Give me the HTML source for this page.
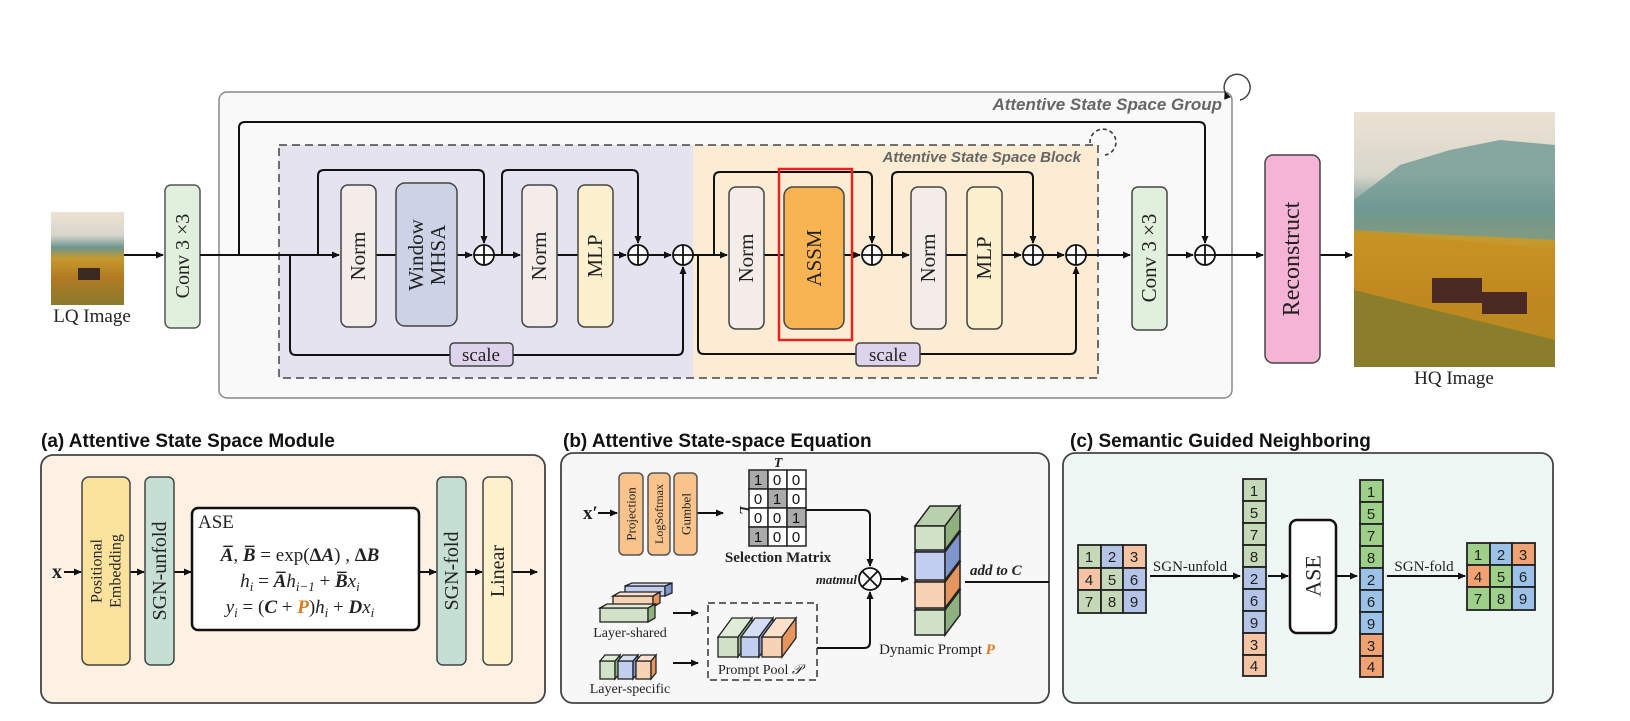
<!DOCTYPE html>
<html><head><meta charset="utf-8"><style>
html,body{margin:0;padding:0;background:#fff}
svg{display:block}
.s{font-family:"Liberation Serif",serif;fill:#222}
.t{font-family:"Liberation Sans",sans-serif;font-weight:bold;fill:#111}
.it{font-family:"Liberation Sans",sans-serif;font-weight:bold;font-style:italic;fill:#666}
</style></head><body>
<svg width="1630" height="721" viewBox="0 0 1630 721" xmlns="http://www.w3.org/2000/svg">
<defs>
<marker id="a" markerWidth="8" markerHeight="8" refX="7" refY="4" orient="auto" markerUnits="userSpaceOnUse"><path d="M0,0.5 L8,4 L0,7.5 z" fill="#111"/></marker>
<linearGradient id="sky" x1="0" y1="0" x2="0" y2="1">
<stop offset="0" stop-color="#ece2d2"/><stop offset="0.25" stop-color="#d8d6cc"/><stop offset="0.38" stop-color="#6e9690"/><stop offset="0.5" stop-color="#c79a2e"/><stop offset="0.7" stop-color="#b37a22"/><stop offset="1" stop-color="#8a7a2e"/></linearGradient>
</defs>

<!-- LQ image -->
<rect x="51" y="212" width="73" height="93" fill="url(#sky)"/>
<rect x="78" y="268" width="22" height="12" fill="#3a2a22"/>
<text class="s" x="92" y="322" font-size="19" text-anchor="middle">LQ Image</text>
<line x1="124" y1="255" x2="163" y2="255" stroke="#111" stroke-width="2" marker-end="url(#a)"/>

<!-- Conv -->
<rect x="165" y="185" width="35" height="143" rx="6" fill="#e0f0dc" stroke="#555" stroke-width="1.5"/>
<text class="s" font-size="20" text-anchor="middle" dominant-baseline="central" transform="translate(183,256) rotate(-90)">Conv 3 ×3</text>

<!-- Group -->
<rect x="219" y="92" width="1013" height="306" rx="8" fill="#f9f9f9" stroke="#888" stroke-width="1.5"/>
<text class="it" x="1222" y="110" font-size="17" text-anchor="end">Attentive State Space Group</text>
<path d="M1225,92 A13,13 0 1 1 1240,100" fill="none" stroke="#444" stroke-width="1.5" marker-start="url(#a)"/>

<!-- Block -->
<rect x="279" y="145" width="414" height="233" fill="#e6e3f0"/>
<rect x="693" y="145" width="405" height="233" fill="#fbecd3"/>
<rect x="279" y="145" width="819" height="233" fill="none" stroke="#444" stroke-width="1.5" stroke-dasharray="8,5"/>
<text class="it" x="1081" y="162" font-size="15" text-anchor="end">Attentive State Space Block</text>
<path d="M1090,143 A13,13 0 1 1 1105,155" fill="none" stroke="#333" stroke-width="1.5" stroke-dasharray="4,3"/>

<!-- main line -->
<g stroke="#111" stroke-width="2" fill="none">
<line x1="200" y1="255" x2="339" y2="255" marker-end="url(#a)"/>
<path d="M239,255 V128 Q239,122 245,122 H1199 Q1205,122 1205,128 V243" marker-end="url(#a)"/>
<path d="M318,255 V176 Q318,170 324,170 H478 Q484,170 484,176 V243" marker-end="url(#a)"/>
<line x1="376" y1="255" x2="396" y2="255"/>
<line x1="457" y1="255" x2="472" y2="255" marker-end="url(#a)"/>
<line x1="494" y1="255" x2="520" y2="255" marker-end="url(#a)"/>
<path d="M502,255 V176 Q502,170 508,170 H632 Q638,170 638,176 V243" marker-end="url(#a)"/>
<line x1="557" y1="255" x2="578" y2="255"/>
<line x1="613" y1="255" x2="626" y2="255" marker-end="url(#a)"/>
<line x1="648" y1="255" x2="671" y2="255" marker-end="url(#a)"/>
<path d="M290,255 V349 Q290,355 296,355 H677 Q683,355 683,349 V267" marker-end="url(#a)"/>
<line x1="693" y1="255" x2="727" y2="255" marker-end="url(#a)"/>
<path d="M714,255 V178 Q714,172 720,172 H866 Q872,172 872,178 V243" marker-end="url(#a)"/>
<line x1="764" y1="255" x2="784" y2="255"/>
<line x1="844" y1="255" x2="860" y2="255" marker-end="url(#a)"/>
<line x1="882" y1="255" x2="909" y2="255" marker-end="url(#a)"/>
<path d="M892,255 V178 Q892,172 898,172 H1027 Q1033,172 1033,178 V243" marker-end="url(#a)"/>
<line x1="946" y1="255" x2="967" y2="255"/>
<line x1="1002" y1="255" x2="1021" y2="255" marker-end="url(#a)"/>
<line x1="1043" y1="255" x2="1064" y2="255" marker-end="url(#a)"/>
<path d="M698,255 V348 Q698,354 704,354 H1070 Q1076,354 1076,348 V267" marker-end="url(#a)"/>
<line x1="1086" y1="255" x2="1130" y2="255" marker-end="url(#a)"/>
<line x1="1167" y1="255" x2="1193" y2="255" marker-end="url(#a)"/>
<line x1="1215" y1="255" x2="1263" y2="255" marker-end="url(#a)"/>
<line x1="1320" y1="255" x2="1352" y2="255" marker-end="url(#a)"/>
</g>

<!-- plus circles -->
<g stroke="#111" stroke-width="1.8" fill="#fff">
<g transform="translate(484,255)"><circle r="10"/><path d="M-10,0H10M0,-10V10"/></g>
<g transform="translate(638,255)"><circle r="10"/><path d="M-10,0H10M0,-10V10"/></g>
<g transform="translate(683,255)"><circle r="10"/><path d="M-10,0H10M0,-10V10"/></g>
<g transform="translate(872,255)"><circle r="10"/><path d="M-10,0H10M0,-10V10"/></g>
<g transform="translate(1033,255)"><circle r="10"/><path d="M-10,0H10M0,-10V10"/></g>
<g transform="translate(1076,255)"><circle r="10"/><path d="M-10,0H10M0,-10V10"/></g>
<g transform="translate(1205,255)"><circle r="10"/><path d="M-10,0H10M0,-10V10"/></g>
</g>

<!-- boxes -->
<g stroke="#444" stroke-width="1.5">
<rect x="341" y="185" width="35" height="142" rx="7" fill="#f3ece9"/>
<rect x="396" y="183" width="61" height="143" rx="9" fill="#ccd3e7"/>
<rect x="522" y="185" width="35" height="142" rx="7" fill="#f3ece9"/>
<rect x="578" y="185" width="35" height="142" rx="7" fill="#fdf0cf"/>
<rect x="729" y="187" width="35" height="142" rx="7" fill="#f3ece9"/>
<rect x="784" y="187" width="60" height="142" rx="9" fill="#f8b453"/>
<rect x="911" y="187" width="35" height="142" rx="7" fill="#f3ece9"/>
<rect x="967" y="187" width="35" height="142" rx="7" fill="#fdf0cf"/>
<rect x="1132" y="187" width="35" height="143" rx="6" fill="#e0f0dc"/>
<rect x="1265" y="155" width="55" height="208" rx="8" fill="#f5b4d6"/>
<rect x="450" y="343" width="63" height="23" rx="4" fill="#ddd3ea"/>
<rect x="856" y="343" width="64" height="23" rx="4" fill="#ddd3ea"/>
</g>
<rect x="779" y="169" width="73" height="171" fill="none" stroke="#e8231e" stroke-width="2.5"/>
<g class="s" font-size="21" text-anchor="middle" dominant-baseline="central">
<text transform="translate(358,256) rotate(-90)">Norm</text>
<text transform="translate(416,255) rotate(-90)">Window</text>
<text transform="translate(438,255) rotate(-90)">MHSA</text>
<text transform="translate(539,256) rotate(-90)">Norm</text>
<text transform="translate(595,256) rotate(-90)">MLP</text>
<text transform="translate(746,258) rotate(-90)">Norm</text>
<text transform="translate(814,258) rotate(-90)">ASSM</text>
<text transform="translate(928,258) rotate(-90)">Norm</text>
<text transform="translate(984,258) rotate(-90)">MLP</text>
<text transform="translate(1149,258) rotate(-90)">Conv 3 ×3</text>
<text transform="translate(1292,259) rotate(-90)" font-size="24">Reconstruct</text>
</g>
<text class="s" x="481" y="361" font-size="19" text-anchor="middle">scale</text>
<text class="s" x="888" y="361" font-size="19" text-anchor="middle">scale</text>

<!-- HQ image -->
<rect x="1354" y="112" width="201" height="255" fill="url(#sky)"/>
<polygon points="1354,200 1400,165 1450,150 1500,140 1555,145 1555,240 1354,230" fill="#6f9a93" opacity="0.8"/>
<polygon points="1354,230 1555,250 1555,367 1354,367" fill="#c8901f" opacity="0.7"/>
<polygon points="1354,290 1555,340 1555,367 1354,367" fill="#8a7d2c"/>
<rect x="1432" y="278" width="50" height="25" fill="#4a2a22"/>
<rect x="1482" y="292" width="45" height="22" fill="#4a2a22"/>
<text class="s" x="1454" y="384" font-size="19" text-anchor="middle">HQ Image</text>

<!-- Titles -->
<text class="t" x="41" y="447" font-size="19">(a) Attentive State Space Module</text>
<text class="t" x="563" y="447" font-size="19">(b) Attentive State-space Equation</text>
<text class="t" x="1070" y="447" font-size="19">(c) Semantic Guided Neighboring</text>

<!-- Panel a -->
<rect x="41" y="455" width="504" height="248" rx="12" fill="#fdf1e3" stroke="#444" stroke-width="1.8"/>
<text class="s" x="52" y="578" font-size="20" font-weight="bold">x</text>
<g stroke="#111" stroke-width="2" marker-end="url(#a)">
<line x1="64" y1="572" x2="81" y2="572"/>
<line x1="130" y1="572" x2="144" y2="572"/>
<line x1="174" y1="572" x2="191" y2="572"/>
<line x1="419" y1="572" x2="436" y2="572"/>
<line x1="466" y1="572" x2="482" y2="572"/>
<line x1="512" y1="572" x2="537" y2="572"/>
</g>
<g stroke="#444" stroke-width="1.5">
<rect x="82" y="477" width="48" height="188" rx="7" fill="#fbe29d"/>
<rect x="145" y="477" width="29" height="188" rx="6" fill="#c6dfd4"/>
<rect x="437" y="477" width="29" height="188" rx="6" fill="#c6dfd4"/>
<rect x="483" y="477" width="29" height="188" rx="6" fill="#fff1cc"/>
</g>
<rect x="192" y="508" width="227" height="122" rx="6" fill="#fff" stroke="#111" stroke-width="2.5"/>
<g class="s" text-anchor="middle" dominant-baseline="central">
<text transform="translate(97,571) rotate(-90)" font-size="16">Positional</text>
<text transform="translate(116,571) rotate(-90)" font-size="16">Embedding</text>
<text transform="translate(160,571) rotate(-90)" font-size="20">SGN-unfold</text>
<text transform="translate(452,571) rotate(-90)" font-size="20">SGN-fold</text>
<text transform="translate(498,571) rotate(-90)" font-size="20">Linear</text>
</g>
<text class="s" x="198" y="528" font-size="19" fill="#222">ASE</text>
<g class="s" font-size="19" text-anchor="middle">
<text x="300" y="561"><tspan font-weight="bold" font-style="italic">A̅</tspan>, <tspan font-weight="bold" font-style="italic">B̅</tspan> = exp(<tspan font-weight="bold">Δ<tspan font-style="italic">A</tspan></tspan>) , <tspan font-weight="bold">Δ<tspan font-style="italic">B</tspan></tspan></text>
<text x="300" y="587"><tspan font-style="italic">h<tspan font-size="13" dy="4">i</tspan></tspan><tspan dy="-4"> = </tspan><tspan font-weight="bold" font-style="italic">A̅</tspan><tspan font-style="italic">h<tspan font-size="13" dy="4">i−1</tspan></tspan><tspan dy="-4"> + </tspan><tspan font-weight="bold" font-style="italic">B̅</tspan><tspan font-style="italic">x<tspan font-size="13" dy="4">i</tspan></tspan></text>
<text x="300" y="613"><tspan font-style="italic">y<tspan font-size="13" dy="4">i</tspan></tspan><tspan dy="-4"> = (</tspan><tspan font-weight="bold" font-style="italic">C</tspan> + <tspan font-weight="bold" font-style="italic" fill="#e07a20">P</tspan>)<tspan font-style="italic">h<tspan font-size="13" dy="4">i</tspan></tspan><tspan dy="-4"> + </tspan><tspan font-weight="bold" font-style="italic">D</tspan><tspan font-style="italic">x<tspan font-size="13" dy="4">i</tspan></tspan></text>
</g>

<!-- Panel b -->
<rect x="561" y="453" width="488" height="250" rx="12" fill="#f7f7f7" stroke="#444" stroke-width="1.8"/>
<text class="s" x="583" y="519" font-size="19" font-weight="bold">x′</text>
<g stroke="#111" stroke-width="2" fill="none">
<line x1="598" y1="513" x2="617" y2="513" marker-end="url(#a)"/>
<line x1="697" y1="513" x2="723" y2="513" marker-end="url(#a)"/>
<path d="M806,510 H864 Q870,510 870,516 V566" marker-end="url(#a)"/>
<path d="M817,648 H864 Q870,648 870,642 V592" marker-end="url(#a)"/>
<line x1="881" y1="579" x2="908" y2="579" marker-end="url(#a)"/>
<line x1="673" y1="613" x2="698" y2="613" marker-end="url(#a)"/>
<line x1="673" y1="663" x2="698" y2="663" marker-end="url(#a)"/>
<line x1="965" y1="582" x2="1049" y2="582"/>
</g>
<g transform="translate(870,579)" stroke="#111" stroke-width="1.8" fill="#fff"><circle r="11"/><path d="M-7.7,-7.7L7.7,7.7M-7.7,7.7L7.7,-7.7"/></g>
<text class="s" x="857" y="584" font-size="13" font-style="italic" font-weight="bold" text-anchor="end" fill="#333">matmul</text>
<text class="s" x="970" y="575" font-size="15" font-style="italic" font-weight="bold" fill="#222">add to <tspan fill="#222">C</tspan></text>
<g stroke="#555" stroke-width="1.5">
<rect x="619" y="473" width="24" height="82" rx="5" fill="#f8c48c"/>
<rect x="648" y="473" width="22" height="82" rx="5" fill="#f8c48c"/>
<rect x="674" y="473" width="23" height="82" rx="5" fill="#f8c48c"/>
</g>
<g class="s" font-size="13" text-anchor="middle" dominant-baseline="central">
<text transform="translate(631,514) rotate(-90)">Projection</text>
<text transform="translate(659,514) rotate(-90)" font-size="12">LogSoftmax</text>
<text transform="translate(686,514) rotate(-90)">Gumbel</text>
</g>
<!-- selection matrix -->
<g stroke="#222" stroke-width="1.5">
<rect x="749" y="470" width="19" height="19" fill="#aaa"/><rect x="768" y="470" width="19" height="19" fill="#fff"/><rect x="787" y="470" width="19" height="19" fill="#fff"/>
<rect x="749" y="489" width="19" height="19" fill="#fff"/><rect x="768" y="489" width="19" height="19" fill="#aaa"/><rect x="787" y="489" width="19" height="19" fill="#fff"/>
<rect x="749" y="508" width="19" height="19" fill="#fff"/><rect x="768" y="508" width="19" height="19" fill="#fff"/><rect x="787" y="508" width="19" height="19" fill="#aaa"/>
<rect x="749" y="527" width="19" height="19" fill="#aaa"/><rect x="768" y="527" width="19" height="19" fill="#fff"/><rect x="787" y="527" width="19" height="19" fill="#fff"/>
</g>
<g font-family="Liberation Sans,sans-serif" font-size="15" text-anchor="middle" fill="#111">
<text x="758" y="485">1</text><text x="777" y="485">0</text><text x="796" y="485">0</text>
<text x="758" y="504">0</text><text x="777" y="504">1</text><text x="796" y="504">0</text>
<text x="758" y="523">0</text><text x="777" y="523">0</text><text x="796" y="523">1</text>
<text x="758" y="542">1</text><text x="777" y="542">0</text><text x="796" y="542">0</text>
</g>
<text class="s" x="778" y="467" font-size="14" font-style="italic" font-weight="bold" text-anchor="middle">T</text>
<text class="s" font-size="14" font-style="italic" font-weight="bold" text-anchor="middle" transform="translate(740,510) rotate(90)">L</text>
<text class="s" x="778" y="562" font-size="15" font-weight="bold" text-anchor="middle">Selection Matrix</text>
<!-- dynamic prompt stack -->
<g stroke="#222" stroke-width="1.5">
<polygon points="915,610 945,610 960,590 930,590" fill="#a7c49a"/><rect x="915" y="610" width="30" height="25" fill="#d2e2c8"/><polygon points="945,610 960,590 960,615 945,635" fill="#8fb07f"/>
<polygon points="915,582 945,582 960,562 930,562" fill="#f0b488"/><rect x="915" y="582" width="30" height="26" fill="#f8d2b4"/><polygon points="945,582 960,562 960,588 945,608" fill="#e6955e"/>
<polygon points="915,552 945,552 960,532 930,532" fill="#9db0dc"/><rect x="915" y="552" width="30" height="28" fill="#c2cff0"/><polygon points="945,552 960,532 960,560 945,580" fill="#7f96cc"/>
<polygon points="915,526 945,526 960,506 930,506" fill="#b9d0ad"/><rect x="915" y="526" width="30" height="24" fill="#d2e2c8"/><polygon points="945,526 960,506 960,530 945,550" fill="#8fb07f"/>
</g>
<text class="s" x="937" y="654" font-size="15" text-anchor="middle" fill="#2a3a70">Dynamic Prompt <tspan fill="#e07a20" font-weight="bold" font-style="italic">P</tspan></text>
<!-- layer-shared -->
<g stroke="#222" stroke-width="1.3">
<rect x="625" y="586" width="40" height="10" fill="#c2cff0"/><polygon points="665,586 672,583 672,593 665,596" fill="#7f96cc"/><polygon points="625,586 632,583 672,583 665,586" fill="#d6def5"/>
<rect x="613" y="596" width="40" height="11" fill="#f8d2b4"/><polygon points="653,596 660,592 660,603 653,607" fill="#e6955e"/><polygon points="613,596 620,592 660,592 653,596" fill="#fbe0cc"/>
<rect x="600" y="608" width="48" height="14" fill="#d2e2c8"/><polygon points="648,608 655,604 655,618 648,622" fill="#8fb07f"/><polygon points="600,608 607,604 655,604 648,608" fill="#e0ecd8"/>
</g>
<text class="s" x="630" y="637" font-size="14" text-anchor="middle" fill="#2a3a70">Layer-shared</text>
<g stroke="#222" stroke-width="1.3">
<rect x="600" y="661" width="15" height="18" fill="#d2e2c8"/><polygon points="615,661 620,655 620,673 615,679" fill="#8fb07f"/><polygon points="600,661 605,655 620,655 615,661" fill="#e0ecd8"/>
<rect x="618" y="661" width="15" height="18" fill="#c2cff0"/><polygon points="633,661 638,655 638,673 633,679" fill="#7f96cc"/><polygon points="618,661 623,655 638,655 633,661" fill="#d6def5"/>
<rect x="636" y="661" width="15" height="18" fill="#f8d2b4"/><polygon points="651,661 656,655 656,673 651,679" fill="#e6955e"/><polygon points="636,661 641,655 656,655 651,661" fill="#fbe0cc"/>
</g>
<text class="s" x="630" y="693" font-size="14" text-anchor="middle" fill="#2a3a70">Layer-specific</text>
<!-- prompt pool -->
<rect x="708" y="603" width="109" height="77" fill="none" stroke="#333" stroke-width="1.5" stroke-dasharray="7,4"/>
<g stroke="#222" stroke-width="1.3">
<rect x="718" y="637" width="20" height="20" fill="#d2e2c8"/><polygon points="738,637 752,618 752,638 738,657" fill="#8fb07f"/><polygon points="718,637 732,618 752,618 738,637" fill="#e0ecd8"/>
<rect x="741" y="637" width="18" height="20" fill="#c2cff0"/><polygon points="759,637 773,618 773,638 759,657" fill="#7f96cc"/><polygon points="741,637 755,618 773,618 759,637" fill="#d6def5"/>
<rect x="762" y="637" width="20" height="20" fill="#f8d2b4"/><polygon points="782,637 796,618 796,638 782,657" fill="#e6955e"/><polygon points="762,637 776,618 796,618 782,637" fill="#fbe0cc"/>
</g>
<text class="s" x="760" y="674" font-size="14" text-anchor="middle" fill="#2a3a70">Prompt Pool <tspan font-style="italic">𝒫</tspan></text>

<!-- Panel c -->
<rect x="1063" y="453" width="490" height="250" rx="12" fill="#eef7f3" stroke="#444" stroke-width="1.8"/>
<g stroke="#222" stroke-width="1.8">
<rect x="1078" y="545" width="23" height="23" fill="#c5d9b8"/><rect x="1101" y="545" width="22" height="23" fill="#b4c4e6"/><rect x="1123" y="545" width="23" height="23" fill="#f5c4a4"/>
<rect x="1078" y="568" width="23" height="22" fill="#f5c4a4"/><rect x="1101" y="568" width="22" height="22" fill="#c5d9b8"/><rect x="1123" y="568" width="23" height="22" fill="#b4c4e6"/>
<rect x="1078" y="590" width="23" height="23" fill="#c5d9b8"/><rect x="1101" y="590" width="22" height="23" fill="#c5d9b8"/><rect x="1123" y="590" width="23" height="23" fill="#b4c4e6"/>
</g>
<g font-family="Liberation Sans,sans-serif" font-size="15" text-anchor="middle" fill="#222">
<text x="1089" y="562">1</text><text x="1112" y="562">2</text><text x="1134" y="562">3</text>
<text x="1089" y="585">4</text><text x="1112" y="585">5</text><text x="1134" y="585">6</text>
<text x="1089" y="607">7</text><text x="1112" y="607">8</text><text x="1134" y="607">9</text>
</g>
<g stroke="#222" stroke-width="1.8">
<rect x="1467" y="543" width="23" height="22" fill="#9fd08a"/><rect x="1490" y="543" width="22" height="22" fill="#9cc2e8"/><rect x="1512" y="543" width="23" height="22" fill="#f0a272"/>
<rect x="1467" y="565" width="23" height="22" fill="#f0a272"/><rect x="1490" y="565" width="22" height="22" fill="#9fd08a"/><rect x="1512" y="565" width="23" height="22" fill="#9cc2e8"/>
<rect x="1467" y="587" width="23" height="23" fill="#9fd08a"/><rect x="1490" y="587" width="22" height="23" fill="#9fd08a"/><rect x="1512" y="587" width="23" height="23" fill="#9cc2e8"/>
</g>
<g font-family="Liberation Sans,sans-serif" font-size="15" text-anchor="middle" fill="#222">
<text x="1478" y="560">1</text><text x="1501" y="560">2</text><text x="1523" y="560">3</text>
<text x="1478" y="582">4</text><text x="1501" y="582">5</text><text x="1523" y="582">6</text>
<text x="1478" y="604">7</text><text x="1501" y="604">8</text><text x="1523" y="604">9</text>
</g>
<!-- columns -->
<g stroke="#222" stroke-width="1.8">
<rect x="1243" y="479" width="23" height="22" fill="#c5d9b8"/><rect x="1243" y="501" width="23" height="22" fill="#c5d9b8"/><rect x="1243" y="523" width="23" height="22" fill="#c5d9b8"/><rect x="1243" y="545" width="23" height="22" fill="#c5d9b8"/>
<rect x="1243" y="567" width="23" height="22" fill="#b4c4e6"/><rect x="1243" y="589" width="23" height="22" fill="#b4c4e6"/><rect x="1243" y="611" width="23" height="22" fill="#b4c4e6"/>
<rect x="1243" y="633" width="23" height="22" fill="#f5c4a4"/><rect x="1243" y="655" width="23" height="21" fill="#f5c4a4"/>
<rect x="1360" y="480" width="23" height="22" fill="#9fd08a"/><rect x="1360" y="502" width="23" height="22" fill="#9fd08a"/><rect x="1360" y="524" width="23" height="22" fill="#9fd08a"/><rect x="1360" y="546" width="23" height="22" fill="#9fd08a"/>
<rect x="1360" y="568" width="23" height="22" fill="#9cc2e8"/><rect x="1360" y="590" width="23" height="22" fill="#9cc2e8"/><rect x="1360" y="612" width="23" height="22" fill="#9cc2e8"/>
<rect x="1360" y="634" width="23" height="22" fill="#f0a272"/><rect x="1360" y="656" width="23" height="21" fill="#f0a272"/>
</g>
<g font-family="Liberation Sans,sans-serif" font-size="15" text-anchor="middle" fill="#222">
<text x="1254" y="496">1</text><text x="1254" y="518">5</text><text x="1254" y="540">7</text><text x="1254" y="562">8</text><text x="1254" y="584">2</text><text x="1254" y="606">6</text><text x="1254" y="628">9</text><text x="1254" y="650">3</text><text x="1254" y="671">4</text>
<text x="1371" y="497">1</text><text x="1371" y="519">5</text><text x="1371" y="541">7</text><text x="1371" y="563">8</text><text x="1371" y="585">2</text><text x="1371" y="607">6</text><text x="1371" y="629">9</text><text x="1371" y="651">3</text><text x="1371" y="672">4</text>
</g>
<rect x="1290" y="520" width="46" height="113" rx="7" fill="#fff" stroke="#111" stroke-width="2.5"/>
<text class="s" font-size="22" text-anchor="middle" dominant-baseline="central" transform="translate(1313,576) rotate(-90)">ASE</text>
<g stroke="#111" stroke-width="2" marker-end="url(#a)">
<line x1="1150" y1="576" x2="1240" y2="576"/>
<line x1="1268" y1="576" x2="1288" y2="576"/>
<line x1="1337" y1="576" x2="1357" y2="576"/>
<line x1="1387" y1="576" x2="1465" y2="576"/>
</g>
<text class="s" x="1190" y="571" font-size="15" text-anchor="middle">SGN-unfold</text>
<text class="s" x="1424" y="571" font-size="15" text-anchor="middle">SGN-fold</text>
</svg>
</body></html>
